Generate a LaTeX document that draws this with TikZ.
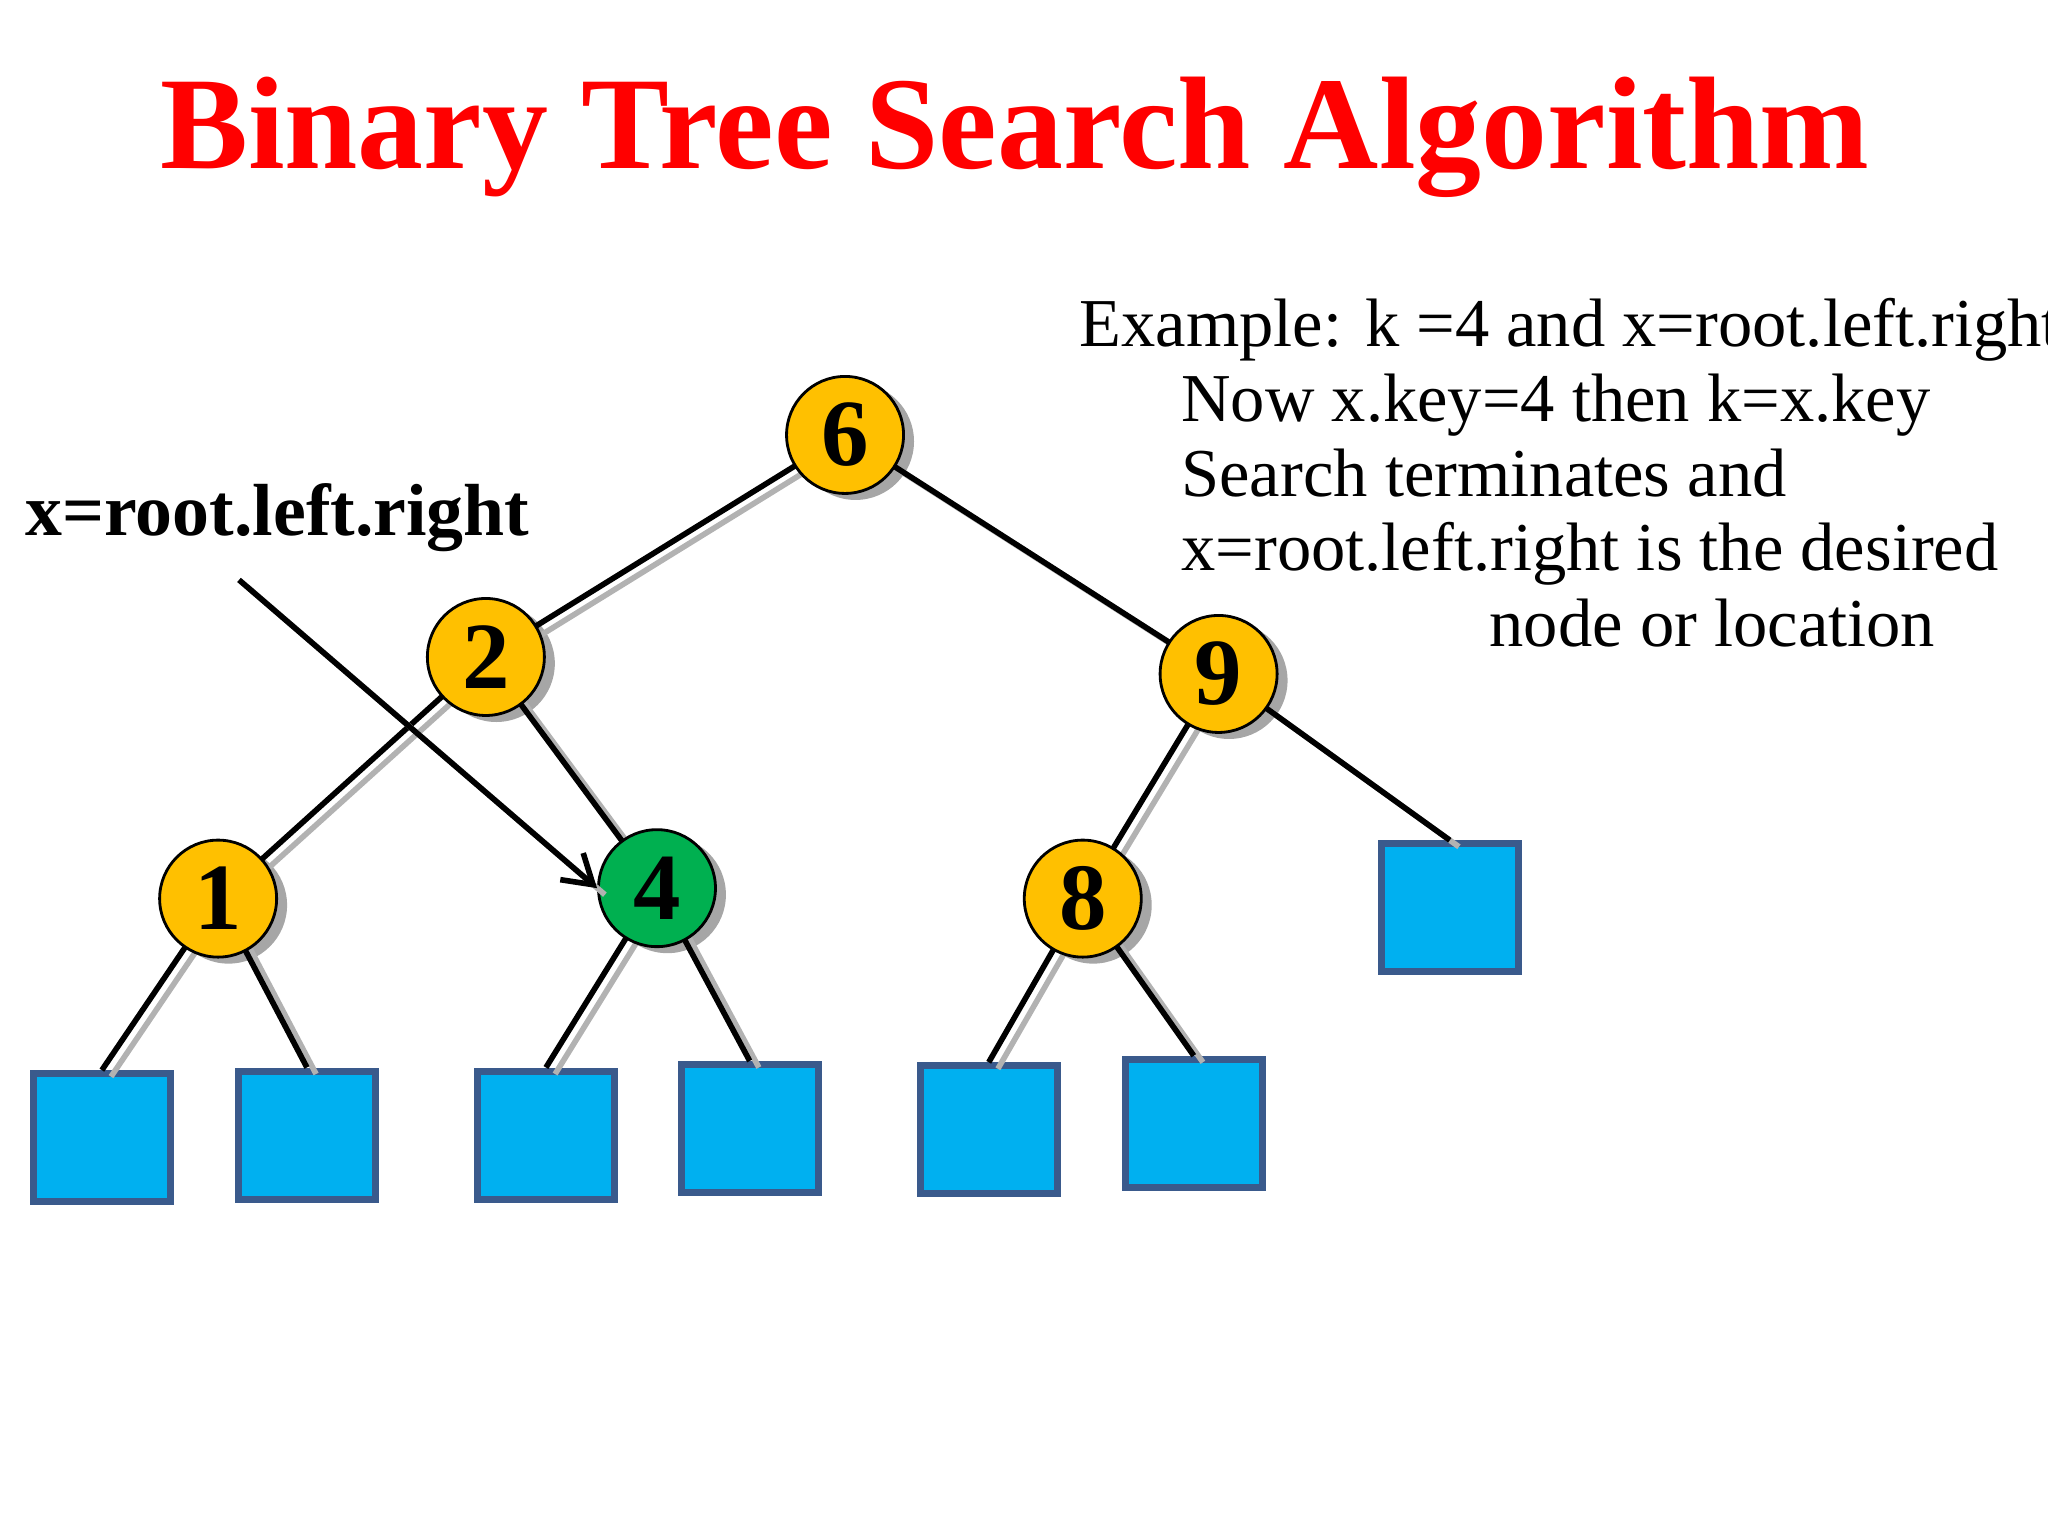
\documentclass[tikz,border=0pt]{standalone}
\usepackage{fontspec}
\setmainfont{Liberation Serif}
\usetikzlibrary{arrows.meta}
\definecolor{gold}{HTML}{FFC000}
\definecolor{grn}{HTML}{00B050}
\definecolor{sq}{HTML}{00B0F0}
\definecolor{sqb}{HTML}{3A5A8C}
\tikzset{
 circ/.style={circle,draw=black,line width=0.8pt,minimum size=1.17cm,inner sep=0pt,font=\fontsize{27}{27}\selectfont\bfseries},
 shad/.style={circle,fill=gray!70,minimum size=1.17cm,inner sep=0pt},
 leaf/.style={rectangle,draw=sqb,fill=sq,line width=2pt,minimum width=1.37cm,minimum height=1.28cm},
 edge/.style={line width=1.6pt,black},
 eshad/.style={line width=1.6pt,gray!60},
 txt/.style={anchor=base west,inner sep=0pt,font=\fontsize{19.5}{19.5}\selectfont}
}
\begin{document}
\begin{tikzpicture}[x=0.01306cm,y=-0.01306cm]
\useasboundingbox (0,0) rectangle (1568,1176);
\node[font=\fontsize{37.5}{37.5}\selectfont\bfseries,text=red] (title) at (777,105) {Binary Tree Search Algorithm};
% coordinates for node centers
\coordinate (c6) at (647,333);
\coordinate (c2) at (372,503);
\coordinate (c9) at (933,516);
\coordinate (c1) at (167,688);
\coordinate (c4) at (503,680);
\coordinate (c8) at (829,688);
% shadows
\foreach \c in {c6,c2,c9,c1,c4,c8}
  \node[shad] (s\c) at ([shift={(8,5)}]\c) {};
% leaves
\node[leaf] (l1) at (78,871) {};
\node[leaf] (l2) at (235,869) {};
\node[leaf] (l3) at (418,869) {};
\node[leaf] (l4) at (574,864) {};
\node[leaf] (l5) at (757,865) {};
\node[leaf] (l6) at (914,860) {};
\node[leaf] (l7) at (1110,695) {};
% edges
\foreach \a/\b in {c6/c2,c6/c9,c2/c1,c2/c4,c9/c8,c9/l7.north,c1/l1.north,c1/l2.north,c4/l3.north,c4/l4.north,c8/l5.north,c8/l6.north}
  \draw[eshad] ([shift={(7,5)}]\a) -- ([shift={(7,5)}]\b);
\foreach \a/\b in {c6/c2,c6/c9,c2/c1,c2/c4,c9/c8,c9/l7.north,c1/l1.north,c1/l2.north,c4/l3.north,c4/l4.north,c8/l5.north,c8/l6.north}
  \draw[edge] (\a) -- (\b);
% circles
\node[circ,fill=gold] (n6) at (c6) {6};
\node[circ,fill=gold] (n2) at (c2) {2};
\node[circ,fill=gold] (n9) at (c9) {9};
\node[circ,fill=gold] (n1) at (c1) {1};
\node[circ,fill=grn] (n4) at (c4) {4};
\node[circ,fill=gold] (n8) at (c8) {8};
% label and arrow
\node[anchor=west,font=\fontsize{21}{21}\selectfont\bfseries] (lab) at (10,396) {x=root.left.right};
\coordinate (as) at (183,444);
\draw[eshad] ([shift={(6,5)}]as) -- ([shift={(6,5)}]n4.west);
\draw[line width=1.6pt,-{Straight Barb[length=8pt,width=10pt]}] (as) -- (n4.west);
% text
\node[txt] (t1) at (826,265) {Example: k =4 and x=root.left.right};
\node[txt] (t2) at (904,323) {Now x.key=4 then k=x.key};
\node[txt] (t3) at (904,380) {Search terminates and};
\node[txt] (t4) at (904,437) {x=root.left.right is the desired};
\node[txt] (t5) at (1140,495) {node or location};
\end{tikzpicture}
\end{document}
